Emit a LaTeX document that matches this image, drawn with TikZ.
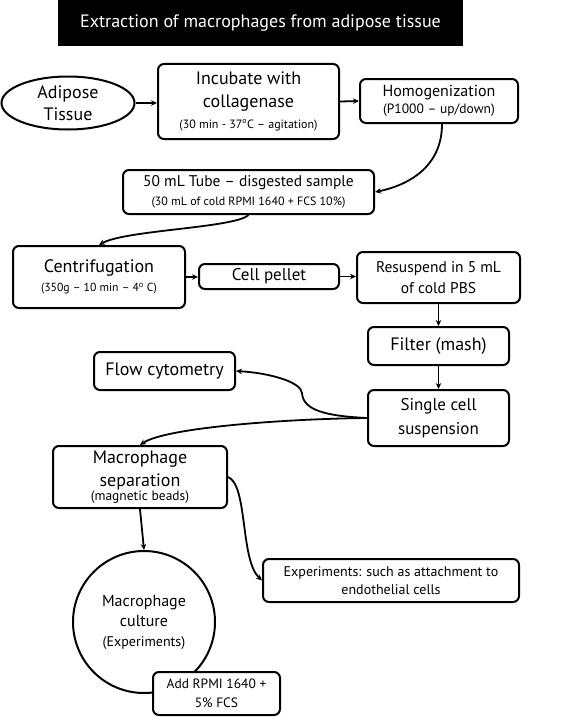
\documentclass[tikz,border=0pt]{standalone}
\usepackage{fontspec}
\setmainfont{PT Sans}
\usetikzlibrary{arrows.meta,shapes.geometric}
\begin{document}
\begin{tikzpicture}[x=1pt,y=-1pt,
  box/.style={draw, line width=2pt, rounded corners=6pt, fill=white, align=center, inner sep=0pt},
  arr/.style={line width=1.8pt, -{Stealth[length=6pt,width=5.5pt]}}]
\useasboundingbox (0,0) rectangle (562,717);
\node[fill=black, minimum width=405pt, minimum height=46pt, inner sep=0pt, text=white,
  font=\fontsize{18}{20}\selectfont] (title) at (260.5,23) {Extraction of macrophages from adipose tissue};
\node[ellipse, draw, line width=2pt, minimum width=133pt, minimum height=53pt, inner sep=0pt,
  align=center, font=\fontsize{18}{22}\selectfont] (adi) at (68,103) {Adipose\\Tissue};
\node[box, minimum width=181pt, minimum height=75pt, font=\fontsize{18}{22.5}\selectfont] (inc) at (248.5,101.5)
  {Incubate with\\collagenase\\[-1.5pt]{\fontsize{12}{14}\selectfont (30 min - 37\textsuperscript{o}C -- agitation)}};
\node[box, minimum width=158pt, minimum height=44pt, font=\fontsize{16}{17.5}\selectfont] (hom) at (439,101)
  {Homogenization\\{\fontsize{13.5}{15}\selectfont (P1000 -- up/down)}};
\node[box, minimum width=251pt, minimum height=44pt, font=\fontsize{15.5}{19}\selectfont] (tube) at (248.5,192)
  {50 mL Tube -- disgested sample\\{\fontsize{12}{14}\selectfont (30 mL of cold RPMI 1640 + FCS 10\%)}};
\node[box, minimum width=172pt, minimum height=62pt, font=\fontsize{18}{18.5}\selectfont] (cen) at (99,277)
  {Centrifugation\\{\fontsize{11.7}{14}\selectfont (350g -- 10 min -- 4\textsuperscript{o} C)}};
\node[box, minimum width=140pt, minimum height=25pt, font=\fontsize{17}{20}\selectfont] (pel) at (269,276.5) {Cell pellet};
\node[box, minimum width=163pt, minimum height=51pt, font=\fontsize{15.5}{21}\selectfont] (res) at (438.5,277.5) {Resuspend in 5 mL\\of cold PBS};
\node[box, minimum width=141pt, minimum height=38pt, font=\fontsize{18}{20}\selectfont] (fil) at (438.5,346) {Filter (mash)};
\node[box, minimum width=141pt, minimum height=56pt, font=\fontsize{17}{23.5}\selectfont] (sin) at (438.5,418) {Single cell\\suspension};
\node[box, minimum width=141pt, minimum height=38pt, font=\fontsize{18}{20}\selectfont] (flow) at (164.5,371) {Flow cytometry};
\node[box, minimum width=174pt, minimum height=62pt, font=\fontsize{18}{23}\selectfont] (ms) at (140,477)
  {Macrophage\\separation\\[-9pt]{\fontsize{13.5}{14}\selectfont (magnetic beads)}};
\node[box, minimum width=256pt, minimum height=43pt, font=\fontsize{14}{18.5}\selectfont] (exp) at (391,580.5) {Experiments: such as attachment to\\endothelial cells};
\node[circle, draw, line width=2pt, minimum size=142pt, inner sep=0pt, align=center,
  font=\fontsize{16}{20}\selectfont] (cul) at (144,622)
  {Macrophage\\culture\\{\fontsize{14}{20}\selectfont (Experiments)}};
\node[box, minimum width=127pt, minimum height=43pt, font=\fontsize{13.5}{19}\selectfont] (add) at (216.5,693.5) {Add RPMI 1640 +\\5\% FCS};
\draw[arr] (adi.east) -- (inc.west |- adi.east);
\draw[arr] (inc.east) -- (hom.west);
\draw[arr] ([xshift=3pt]hom.south) .. controls +(0,45) and +(30,-6) .. (tube.east);
\draw[arr] (tube.south) .. controls (235,228) and (125,230) .. (cen.north);
\draw[arr] (cen.east) -- (pel.west |- cen.east);
\draw[arr] (pel.east) -- (res.west |- pel.east);
\draw[arr] (res.south) -- (fil.north);
\draw[arr] (fil.south) -- (sin.north);
\coordinate (bend) at (302,393);
\draw[arr] (sin.west) .. controls (325,416) and (303,410) .. (bend) .. controls (301,382) and (270,373) .. (flow.east);
\draw[arr] (sin.west) .. controls (280,419) and (165,428) .. (ms.north);
\draw[arr] (ms.south) -- (cul.north);
\draw[arr] (ms.east) .. controls (248,485) and (240,560) .. (exp.west);
\end{tikzpicture}
\end{document}
